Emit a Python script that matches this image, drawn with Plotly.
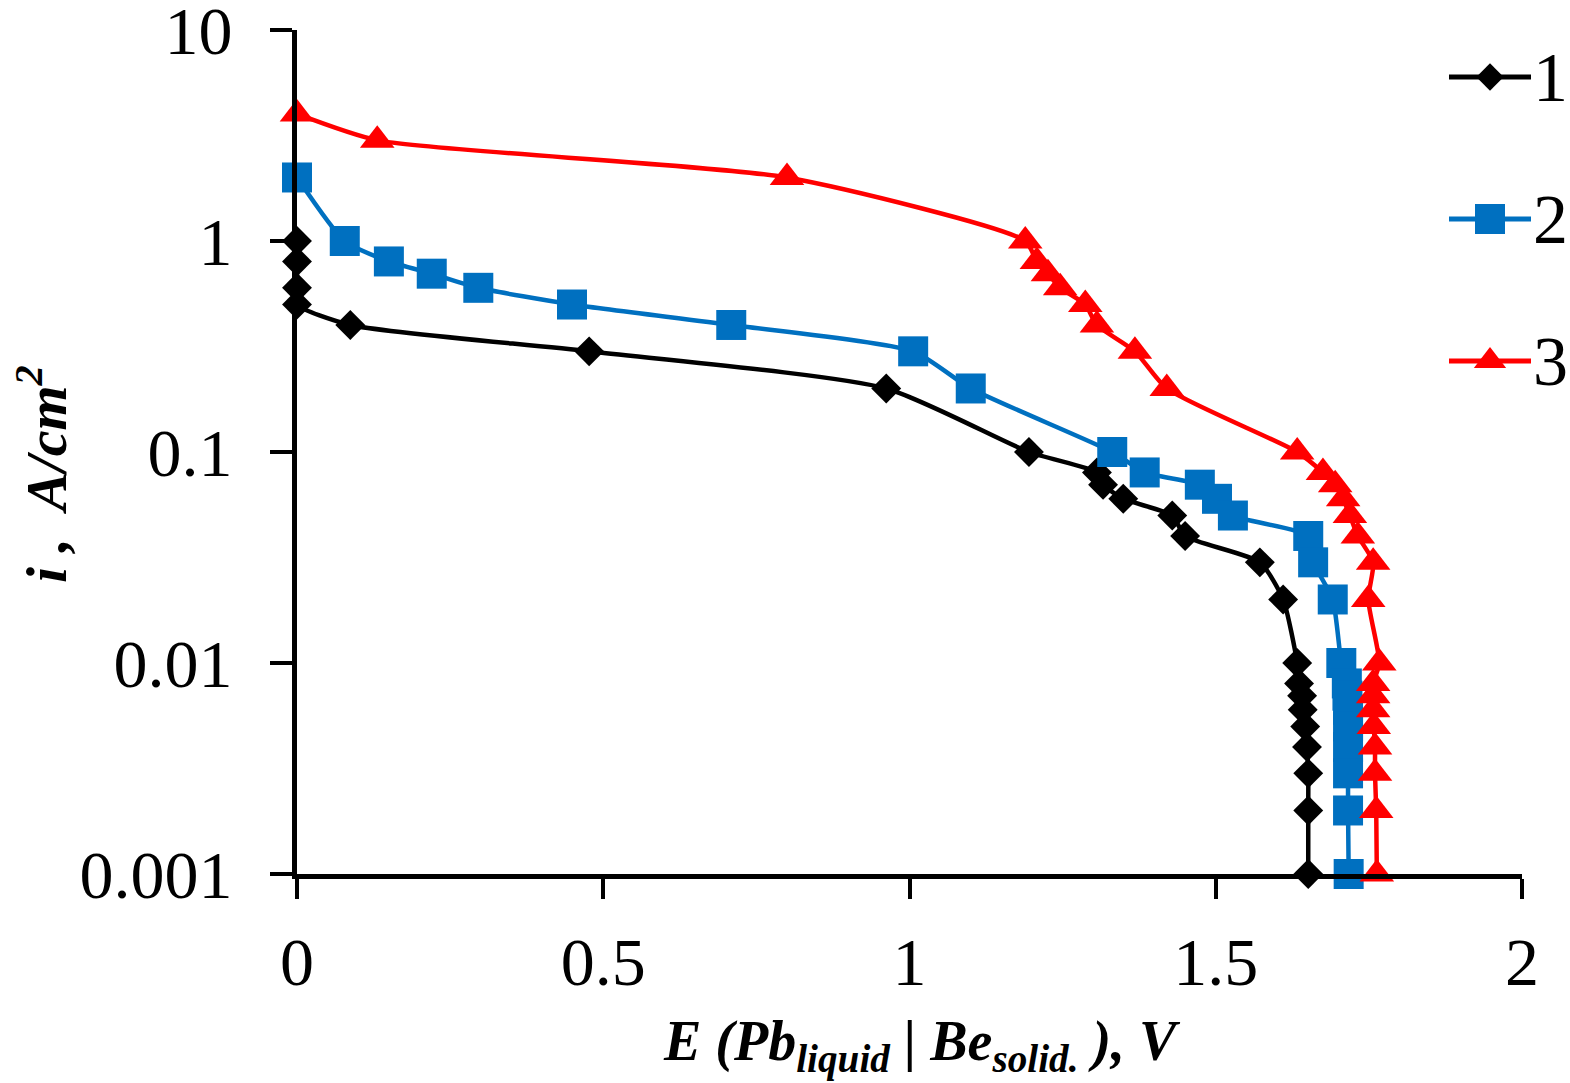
import plotly.graph_objects as go

# Series 1 (black diamonds)
e1 = [0.0, 0.0, 0.0, 0.0, 0.087, 0.477, 0.962, 1.195, 1.306, 1.316, 1.349, 1.429, 1.450,
      1.572, 1.610, 1.633, 1.636, 1.641, 1.642, 1.646, 1.649, 1.651, 1.651, 1.651]
i1 = [1.0, 0.8, 0.6, 0.5, 0.4, 0.3, 0.2, 0.1, 0.08, 0.07, 0.06, 0.05, 0.04,
      0.03, 0.02, 0.01, 0.008, 0.007, 0.006, 0.005, 0.004, 0.003, 0.002, 0.001]

# Series 2 (blue squares)
e2 = [0.0, 0.078, 0.150, 0.220, 0.296, 0.449, 0.709, 1.006, 1.100, 1.331, 1.384, 1.474,
      1.502, 1.528, 1.651, 1.659, 1.691, 1.705, 1.714, 1.715, 1.716, 1.716, 1.716, 1.716,
      1.716, 1.717]
i2 = [2.0, 1.0, 0.8, 0.7, 0.6, 0.5, 0.4, 0.3, 0.2, 0.1, 0.08, 0.07,
      0.06, 0.05, 0.04, 0.03, 0.02, 0.01, 0.008, 0.007, 0.006, 0.005, 0.004, 0.003,
      0.002, 0.001]

# Series 3 (red triangles)
e3 = [0.0, 0.131, 0.800, 1.189, 1.208, 1.226, 1.246, 1.287, 1.306, 1.368, 1.420, 1.633,
      1.675, 1.695, 1.708, 1.719, 1.732, 1.757, 1.749, 1.767, 1.757, 1.757, 1.757, 1.758,
      1.760, 1.760, 1.762, 1.763]
i3 = [4.0, 3.0, 2.0, 1.0, 0.8, 0.7, 0.6, 0.5, 0.4, 0.3, 0.2, 0.1,
      0.08, 0.07, 0.06, 0.05, 0.04, 0.03, 0.02, 0.01, 0.008, 0.007, 0.006, 0.005,
      0.004, 0.003, 0.002, 0.001]

names = ["1", "2", "3"]
colors = ["#000000", "#0070C0", "#FF0000"]
symbols = ["diamond", "square", "triangle-up"]
sizes = [23, 30, 30]
legend_sizes = [21, 30, 28]

y_tickvals = [0.001, 0.01, 0.1, 1, 10]
y_ticktext = ["0.001", "0.01", "0.1", "1", "10"]
x_tickvals = [0, 0.5, 1, 1.5, 2]
x_ticktext = ["0", "0.5", "1", "1.5", "2"]

FONT = "Liberation Serif"

# figure geometry (pixels)
W, H = 1570, 1083
L, R, T, B = 297, 48, 30, 209
pw, ph = W - L - R, H - T - B


def px_x(x):
    return (x - L) / pw


def px_y(y):
    return (H - B - y) / ph


fig = go.Figure()
for e, i, n, c, s, sz in zip([e1, e2, e3], [i1, i2, i3], names, colors, symbols, sizes):
    fig.add_trace(go.Scatter(
        x=e, y=i, name=n, mode="lines+markers",
        line=dict(color=c, width=4.5, shape="spline", smoothing=0.6),
        marker=dict(symbol=s, size=sz, color=c, line=dict(width=0)),
        cliponaxis=False, showlegend=False,
    ))

# hand-drawn legend (to the right of the plot, like the original)
leg_rows_px = [77, 219, 361]
leg_line_x0, leg_line_x1, leg_mark_x, leg_text_right = 1449, 1531, 1490, 1569
shapes = []
annotations = []
for n, c, s, lsz, ry in zip(names, colors, symbols, legend_sizes, leg_rows_px):
    shapes.append(dict(type="line", xref="paper", yref="paper",
                       x0=px_x(leg_line_x0), x1=px_x(leg_line_x1),
                       y0=px_y(ry), y1=px_y(ry),
                       line=dict(color=c, width=5)))
    fig.add_trace(go.Scatter(
        x=[leg_mark_x], y=[ry], mode="markers", xaxis="x2", yaxis="y2",
        marker=dict(symbol=s, size=lsz, color=c, line=dict(width=0)),
        cliponaxis=False, showlegend=False, hoverinfo="skip",
    ))
    annotations.append(dict(text=n, x=px_x(leg_text_right), y=px_y(ry),
                            xref="paper", yref="paper", showarrow=False,
                            xanchor="right", yanchor="middle", borderpad=0,
                            font=dict(family=FONT, size=70, color="black")))

annotations.append(dict(
    text="<b><i>E (Pb<sub>liquid</sub> | Be<sub>solid.</sub> ), V</i></b>",
    x=px_x(922), y=px_y(1045), xref="paper", yref="paper", showarrow=False,
    xanchor="center", yanchor="middle",
    font=dict(family=FONT, size=56, color="black")))
annotations.append(dict(
    text="<b><i>i ,  A/cm<sup>2</sup></i></b>",
    x=px_x(42), y=px_y(474), xref="paper", yref="paper", showarrow=False,
    xanchor="center", yanchor="middle", textangle=-90,
    font=dict(family=FONT, size=58, color="black")))

axis_common = dict(
    showgrid=False, zeroline=False, automargin=False,
    showline=True, linecolor="black", linewidth=5,
    ticks="outside", tickwidth=4, tickcolor="black",
    tickfont=dict(family=FONT, size=68, color="black"),
    ticklabeloverflow="allow",
)

fig.update_layout(
    width=W, height=H,
    margin=dict(l=L, r=R, t=T, b=B, autoexpand=False),
    paper_bgcolor="white", plot_bgcolor="white",
    font=dict(family=FONT, color="black", size=60),
    showlegend=False,
    shapes=shapes,
    annotations=annotations,
    xaxis=dict(range=[0, 2], tickvals=x_tickvals, ticktext=x_ticktext,
               ticklen=20, ticklabelstandoff=4, **axis_common),
    yaxis=dict(type="log", range=[-3, 1], tickvals=y_tickvals, ticktext=y_ticktext,
               ticklen=22, ticklabelstandoff=24, **axis_common),
    xaxis2=dict(overlaying="x", range=[L, W - R], visible=False, fixedrange=True),
    yaxis2=dict(overlaying="y", range=[H - B, T], visible=False, fixedrange=True),
)

fig.write_html("out.html")
